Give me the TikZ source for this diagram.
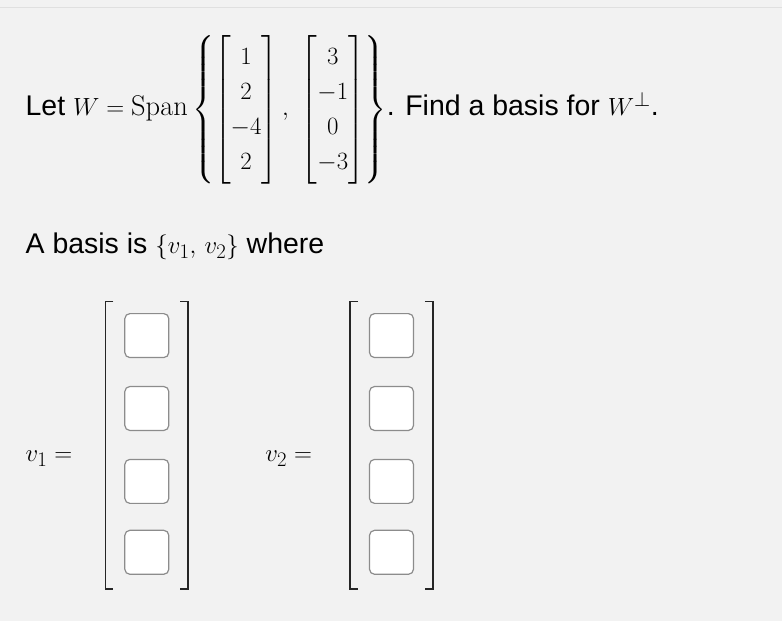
\documentclass[tikz,border=0pt]{standalone}
\usepackage{amsmath}
\usepackage{fontspec}
\setsansfont{Liberation Sans}
\begin{document}
\begin{tikzpicture}[x=1pt,y=-1pt,
  ansbox/.style={draw=gray!90,line width=1.2pt,fill=white,rounded corners=5pt,minimum width=44pt,minimum height=44pt,inner sep=0pt},
  brk/.style={line width=1.6pt,draw=black!85},
  txt/.style={inner sep=0pt,anchor=base west,font=\fontsize{28.5}{34}\selectfont}]
\fill[black!5] (0,0) rectangle (782,622);
\draw[black!12,line width=1pt] (0,8) -- (782,8);
\useasboundingbox (0,0) rectangle (782,622);
\node[txt] (q) at (25,116) {\renewcommand{\arraystretch}{1.03}\sffamily Let $W=\mathrm{Span}\left\{\begin{bmatrix}1\\2\\-4\\2\end{bmatrix},\ \begin{bmatrix}3\\-1\\0\\-3\end{bmatrix}\right\}$. Find a basis for $W^{\perp}$.};
\node[txt] (a) at (25,254) {\sffamily A basis is $\{v_1,\,v_2\}$ where};
\node[txt] (l1) at (25,462) {$v_1=$};
\node[txt] (l2) at (265,462) {$v_2=$};
\foreach \x/\n in {105/A,350/B}{
  \draw[brk] (\x+8,302) -- (\x,302) -- (\x,590) -- (\x+8,590);
  \draw[brk] (\x+75,302) -- (\x+83,302) -- (\x+83,590) -- (\x+75,590);
  \foreach \y/\k in {336/1,409/2,482/3,553/4}
    \node[ansbox] (\n\k) at (\x+41.5,\y) {};
}
\end{tikzpicture}
\end{document}
